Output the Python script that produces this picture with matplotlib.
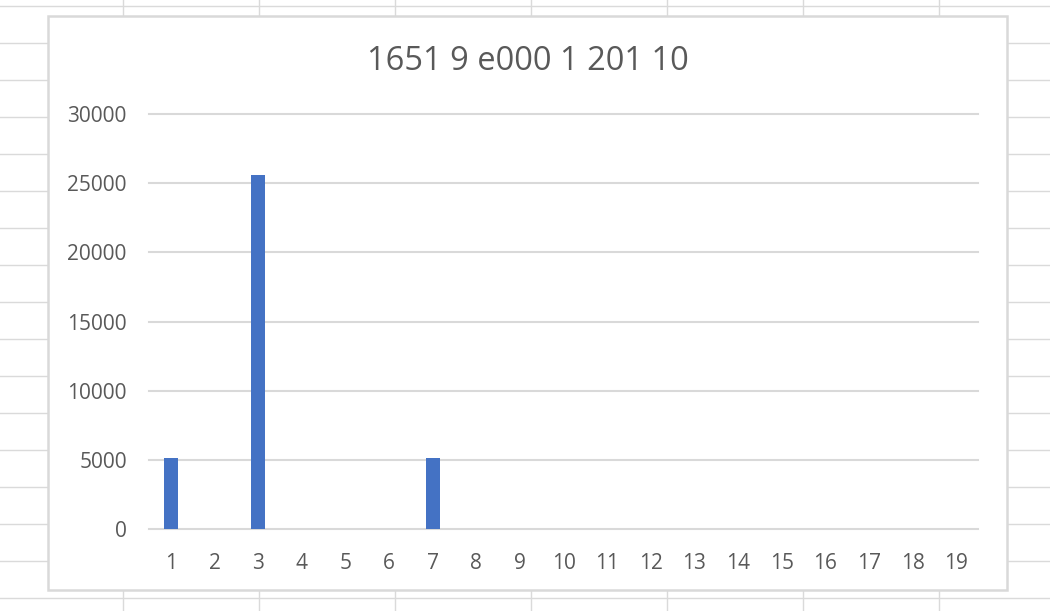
import matplotlib
matplotlib.use("Agg")
import matplotlib.pyplot as plt
from matplotlib.patches import Rectangle
from matplotlib.lines import Line2D

categories = [str(i) for i in range(1, 20)]
values = [5120, 0, 25600, 0, 0, 0, 5120] + [0] * 12
yticks = [0, 5000, 10000, 15000, 20000, 25000, 30000]
title = "1651 9 e000 1 201 10"

W, H = 1050, 611
fig = plt.figure(figsize=(W / 100, H / 100), dpi=100)
fig.patch.set_facecolor("white")

def fx(px):
    return px / W

def fy(py):
    return 1 - py / H

# spreadsheet cell grid (background decoration)
grid_col = "#dadada"
for r in range(0, 18):
    y = 6 + 37 * r
    fig.add_artist(Line2D([0, 1], [fy(y), fy(y)], color=grid_col, lw=1.0, zorder=0))
for c in range(0, 8):
    x = 123 + 136 * c
    fig.add_artist(Line2D([fx(x), fx(x)], [0, 1], color=grid_col, lw=1.0, zorder=0))

# chart area
fig.add_artist(Rectangle((fx(48), fy(590)), fx(1007) - fx(48), fy(16) - fy(590),
                         facecolor="white", edgecolor="#d9d9d9", lw=1.8, zorder=1))

ax = fig.add_axes([fx(149), fy(529), fx(978) - fx(149), fy(114) - fy(529)])
ax.set_zorder(2)
ax.patch.set_alpha(0)
x = list(range(1, len(categories) + 1))
ax.bar(x, values, width=0.32, color="#4472c4", zorder=3)
ax.set_xlim(0.5, len(categories) + 0.5)
ax.set_ylim(0, 30000)
ax.set_yticks(yticks)
ax.set_yticklabels([str(v) for v in yticks])
ax.set_xticks(x)
ax.set_xticklabels(categories)
ax.grid(axis="y", color="#d9d9d9", lw=1.5, zorder=0)
ax.grid(axis="x", visible=False)
for gl in ax.get_ygridlines():
    gl.set_clip_on(False)
for s in ax.spines.values():
    s.set_visible(False)
ax.tick_params(length=0, labelsize=15, labelcolor="#595959")
ax.tick_params(axis="y", pad=16)
ax.tick_params(axis="x", pad=17)
for lab in ax.get_xticklabels() + ax.get_yticklabels():
    lab.set_fontfamily("Open Sans")

fig.text(fx(528), fy(62), title, ha="center", va="center", fontsize=23.5,
         color="#595959", fontfamily="Open Sans")

fig.savefig("out.png", dpi=100)
